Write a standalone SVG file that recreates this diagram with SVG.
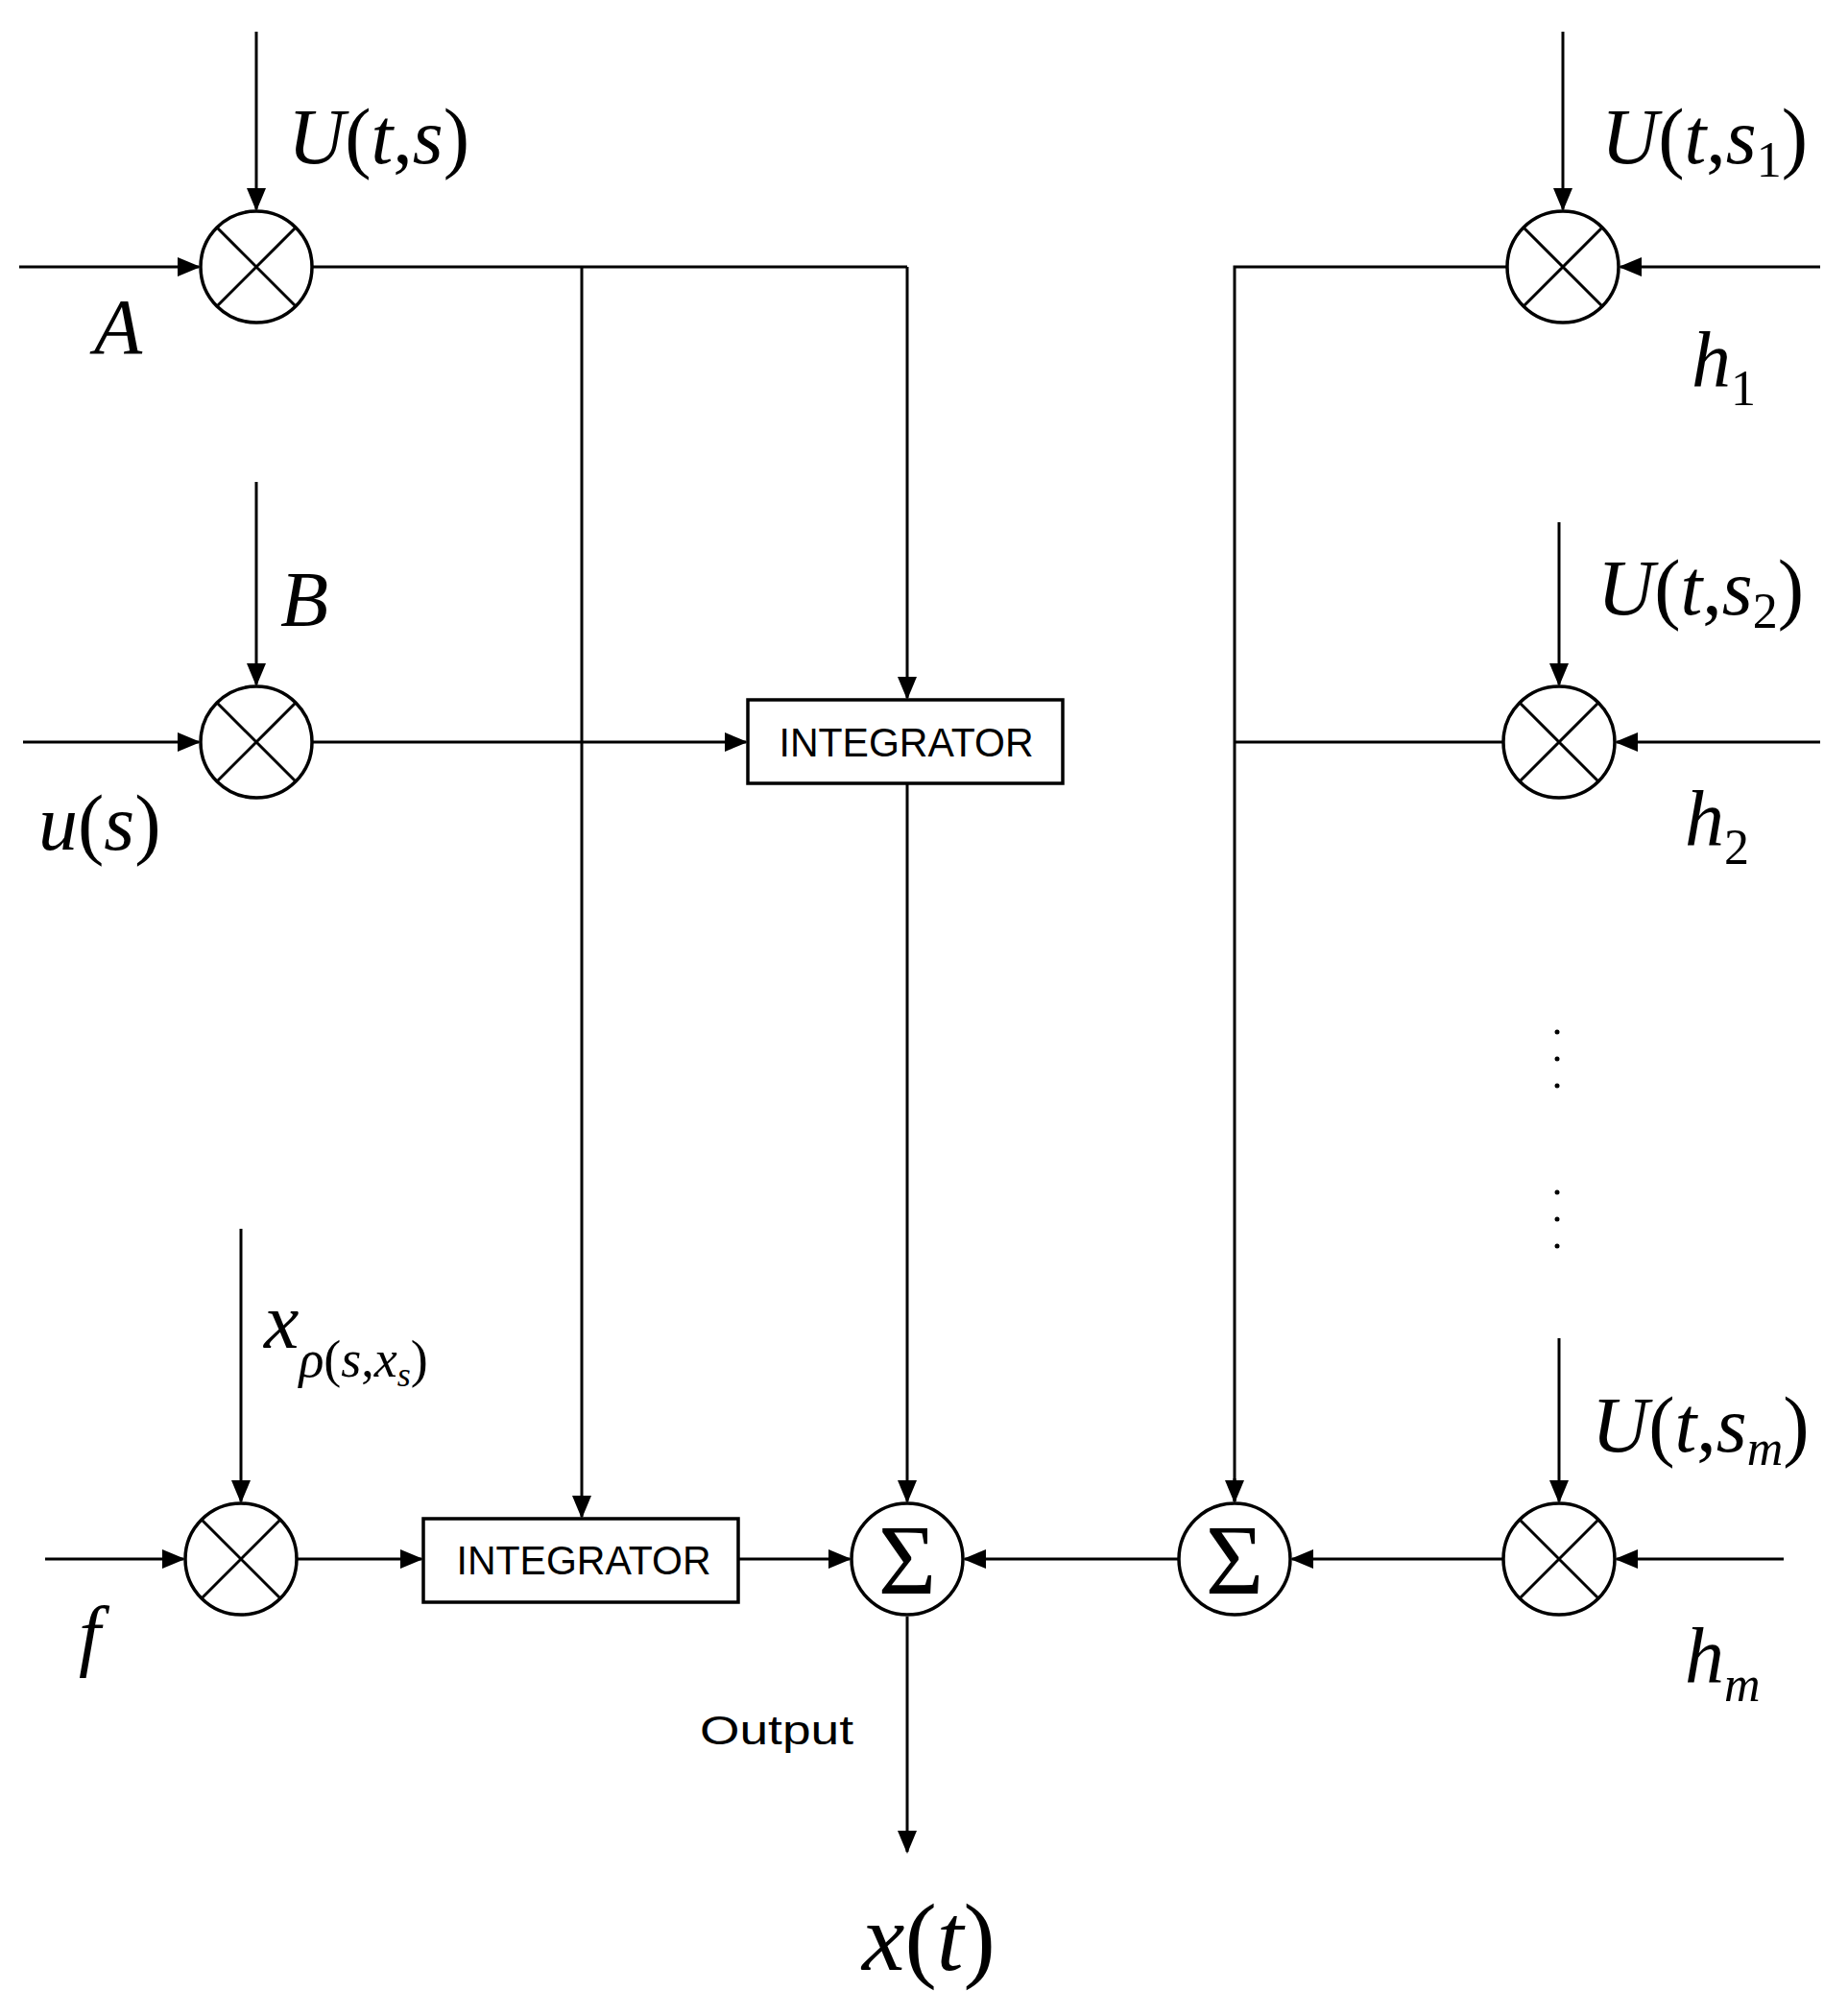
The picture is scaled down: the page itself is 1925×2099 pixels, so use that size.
<svg xmlns="http://www.w3.org/2000/svg" width="1925" height="2099" viewBox="0 0 1925 2099">
<style>
.l{stroke:#000;stroke-width:3;fill:none}
.a{stroke:#000;stroke-width:3;fill:none;marker-end:url(#ah)}
.c{stroke:#000;stroke-width:3.5;fill:#fff}
.m{font-family:"Liberation Serif","Times New Roman",serif;font-style:italic;fill:#000}
.u{font-style:normal}
.s{font-family:"Liberation Serif",serif;fill:#000}
.t{font-family:"Liberation Sans",sans-serif;fill:#000;font-size:42px}
</style>
<defs>
<marker id="ah" markerUnits="userSpaceOnUse" markerWidth="24" markerHeight="20" refX="22" refY="10" orient="auto"><path d="M0,0 L24,10 L0,20 Z" fill="#000"/></marker>
<g id="mul"><circle r="58" class="c"/><path d="M-41,-41 L41,41 M-41,41 L41,-41" class="l"/></g>
</defs>
<rect width="1925" height="2099" fill="#fff"/>
<g id="connectors">
<path class="a" d="M267,33 V218"/>
<path class="a" d="M20,278 H207"/>
<path class="l" d="M325,278 H945"/>
<path class="a" d="M945,278 V727"/>
<path class="a" d="M606,278 V1580"/>
<path class="a" d="M267,502 V713"/>
<path class="a" d="M24,773 H207"/>
<path class="a" d="M325,773 H777"/>
<path class="a" d="M945,816 V1564"/>
<path class="a" d="M1628,33 V218"/>
<path class="a" d="M1896,278 H1688"/>
<path class="l" d="M1570,278 H1286 V1564"/>
<path class="a" d="M1286,1540 V1564"/>
<path class="a" d="M1624,544 V713"/>
<path class="a" d="M1896,773 H1684"/>
<path class="l" d="M1566,773 H1286"/>
<path class="a" d="M1624,1394 V1564"/>
<path class="a" d="M1858,1624 H1684"/>
<path class="a" d="M1566,1624 H1346"/>
<path class="a" d="M1228,1624 H1005"/>
<path class="a" d="M47,1624 H191"/>
<path class="a" d="M251,1280 V1564"/>
<path class="a" d="M309,1624 H439"/>
<path class="a" d="M769,1624 H885"/>
<path class="a" d="M945,1684 V1929"/>
</g>
<g id="mulA"><use href="#mul" x="267" y="278"/></g>
<g id="mulB"><use href="#mul" x="267" y="773"/></g>
<g id="mulF"><use href="#mul" x="251" y="1624"/></g>
<g id="mul1"><use href="#mul" x="1628" y="278"/></g>
<g id="mul2"><use href="#mul" x="1624" y="773"/></g>
<g id="mulM"><use href="#mul" x="1624" y="1624"/></g>
<g id="int1"><rect x="779" y="729" width="328" height="87" class="c" stroke-width="3"/><text class="t" x="944" y="788" text-anchor="middle" textLength="265" lengthAdjust="spacingAndGlyphs">INTEGRATOR</text></g>
<g id="int2"><rect x="441" y="1582" width="328" height="87" class="c" stroke-width="3"/><text class="t" x="608" y="1640" text-anchor="middle" textLength="265" lengthAdjust="spacingAndGlyphs">INTEGRATOR</text></g>
<g id="sum1"><circle cx="945" cy="1624" r="58" class="c"/><text class="s" x="945" y="1660" font-size="104" text-anchor="middle">Σ</text></g>
<g id="sum2"><circle cx="1286" cy="1624" r="58" class="c"/><text class="s" x="1286" y="1660" font-size="104" text-anchor="middle">Σ</text></g>
<g id="labels">
<text class="m" x="300" y="170" font-size="82">U<tspan class="u">(</tspan>t<tspan class="u">,</tspan>s<tspan class="u">)</tspan></text>
<text class="m" x="98" y="368" font-size="82">A</text>
<text class="m" x="292" y="652" font-size="82">B</text>
<text class="m" x="40" y="885" font-size="82">u<tspan class="u">(</tspan>s<tspan class="u">)</tspan></text>
<text class="m" x="275" y="1404" font-size="82">x<tspan font-size="54" dy="30">ρ<tspan class="u">(</tspan>s<tspan class="u">,</tspan>x</tspan><tspan font-size="36" dy="10">s</tspan><tspan font-size="54" dy="-10" class="u">)</tspan></text>
<text class="m" x="82" y="1730" font-size="82">f</text>
<text class="t" x="729" y="1817" font-size="42" textLength="160" lengthAdjust="spacingAndGlyphs">Output</text>
<text class="m" x="898" y="2052" font-size="100">x<tspan class="u">(</tspan>t<tspan class="u">)</tspan></text>
<text class="m" x="1668" y="170" font-size="82">U<tspan class="u">(</tspan>t<tspan class="u">,</tspan>s<tspan font-size="52" dy="14" class="u">1</tspan><tspan dy="-14" class="u">)</tspan></text>
<text class="m" x="1762" y="402" font-size="82">h<tspan font-size="52" dy="20" class="u">1</tspan></text>
<text class="m" x="1664" y="640" font-size="82">U<tspan class="u">(</tspan>t<tspan class="u">,</tspan>s<tspan font-size="52" dy="14" class="u">2</tspan><tspan dy="-14" class="u">)</tspan></text>
<text class="m" x="1755" y="880" font-size="82">h<tspan font-size="52" dy="20" class="u">2</tspan></text>
<text class="m" x="1658" y="1512" font-size="82">U<tspan class="u">(</tspan>t<tspan class="u">,</tspan>s<tspan font-size="52" dy="14">m</tspan><tspan dy="-14" class="u">)</tspan></text>
<text class="m" x="1755" y="1752" font-size="82">h<tspan font-size="52" dy="20">m</tspan></text>
<g fill="#000"><circle cx="1622" cy="1075" r="2.5"/><circle cx="1622" cy="1103" r="2.5"/><circle cx="1622" cy="1131" r="2.5"/><circle cx="1622" cy="1242" r="2.5"/><circle cx="1622" cy="1270" r="2.5"/><circle cx="1622" cy="1298" r="2.5"/></g>
</g>
</svg>
